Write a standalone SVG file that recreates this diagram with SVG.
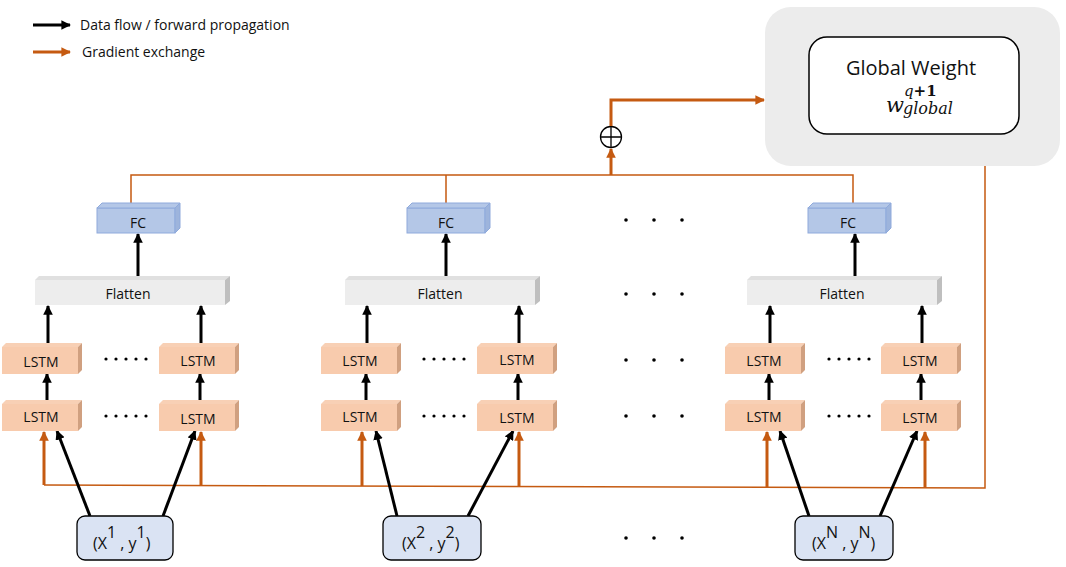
<svg xmlns="http://www.w3.org/2000/svg" xmlns:xlink="http://www.w3.org/1999/xlink" width="1066" height="567" viewBox="0 0 1066 567">
<style>
text{font-family:"Open Sans","Noto Sans",sans-serif;fill:#111}
.math{font-family:"DejaVu Serif",serif;font-style:italic}
.lbl{font-size:14px;text-anchor:middle}
.bk{stroke:#000;stroke-width:3;fill:none}
.or{stroke:#c55a11;stroke-width:1.5;fill:none}
.orb{stroke:#c55a11;stroke-width:3;fill:none}
.dot{fill:#000}
.inp{fill:#dae3f3;stroke:#000;stroke-width:1.3}
</style>
<defs>
<marker id="ab" viewBox="0 0 10 10" refX="9" refY="5" markerWidth="3.2" markerHeight="3.2" orient="auto"><path d="M0,0L10,5L0,10z" fill="#000"/></marker>
<marker id="ao" viewBox="0 0 10 10" refX="9" refY="5" markerWidth="3.2" markerHeight="3.2" orient="auto"><path d="M0,0L10,5L0,10z" fill="#c55a11"/></marker>
<g id="lstm"><rect x="0" y="4" width="76" height="27" fill="#f8cbad"/><path d="M0,4L4,0H80L76,4z" fill="#f4b183" opacity="0.6"/><path d="M76,4L80,0V27L76,31z" fill="#d0a080"/></g>
<g id="flat"><rect x="0" y="4" width="190" height="25" fill="#ededed"/><path d="M0,4L4,0H195L190,4z" fill="#e0e0e0"/><path d="M190,4L195,0V25L190,29z" fill="#bfbfbf"/></g>
<g id="fc"><rect x="0" y="5" width="78" height="25" fill="#b4c7e7" stroke="#8faadc"/><path d="M0,5L5,0H83L78,5z" fill="#b4c7e7" stroke="#8faadc"/><path d="M78,5L83,0V25L78,30z" fill="#9db4dc" stroke="#8faadc"/></g>
<g id="d5" class="dot"><circle cx="0" cy="0" r="1.6"/><circle cx="10" cy="0" r="1.6"/><circle cx="20" cy="0" r="1.6"/><circle cx="30" cy="0" r="1.6"/><circle cx="40" cy="0" r="1.6"/></g>
</defs>

<g id="legend">
<line x1="33" y1="25" x2="70" y2="25" class="bk" stroke-width="2.5" marker-end="url(#ab)"/>
<text x="80" y="30" font-size="14">Data flow / forward propagation</text>
<line x1="33" y1="52" x2="70" y2="52" class="orb" stroke-width="2.5" marker-end="url(#ao)"/>
<text x="82" y="57" font-size="14">Gradient exchange</text>
</g>

<g id="global">
<rect x="765" y="7" width="295" height="159" rx="26" fill="#ececec"/>
<rect x="809" y="37" width="210" height="97" rx="18" fill="#fff" stroke="#000" stroke-width="1.5"/>
<text x="911" y="75" font-size="20" text-anchor="middle">Global Weight</text>
<text class="math" x="886" y="112"><tspan font-size="21">w</tspan><tspan font-size="15" dy="-16">q</tspan><tspan font-size="15" style="font-style:normal;font-weight:bold">+1</tspan><tspan x="903" dy="18" font-size="16">global</tspan></text>
</g>

<g id="sum">
<circle cx="611" cy="137" r="10.5" fill="#fff" stroke="#000" stroke-width="1.3"/>
<path d="M600.5,137H621.5M611,126.5V147.5" stroke="#000" stroke-width="1.3"/>
</g>

<g id="connectors">
<path d="M611,126V100H764" class="orb" stroke-width="2.5" marker-end="url(#ao)"/>
<line x1="611" y1="175" x2="611" y2="149" class="orb" stroke-width="2.5" marker-end="url(#ao)"/>
<path d="M131,203V175H853V203M446,175V203" class="or"/>
<path d="M985,166V488L44,485" class="or"/>
<g class="orb" stroke-width="2.5">
<line x1="44" y1="485" x2="44" y2="432" marker-end="url(#ao)"/>
<line x1="201" y1="486" x2="201" y2="432" marker-end="url(#ao)"/>
<line x1="362" y1="486" x2="362" y2="432" marker-end="url(#ao)"/>
<line x1="519" y1="487" x2="519" y2="432" marker-end="url(#ao)"/>
<line x1="767" y1="487" x2="767" y2="432" marker-end="url(#ao)"/>
<line x1="925" y1="488" x2="925" y2="432" marker-end="url(#ao)"/>
</g>
<g class="bk">
<line x1="138" y1="276" x2="138" y2="234" marker-end="url(#ab)"/>
<line x1="48" y1="343" x2="48" y2="306" marker-end="url(#ab)"/>
<line x1="201" y1="343" x2="201" y2="306" marker-end="url(#ab)"/>
<line x1="47" y1="400" x2="47" y2="374" marker-end="url(#ab)"/>
<line x1="200" y1="400" x2="200" y2="374" marker-end="url(#ab)"/>
<line x1="90" y1="516" x2="57" y2="431" marker-end="url(#ab)"/>
<line x1="163" y1="516" x2="195" y2="431" marker-end="url(#ab)"/>

<line x1="446" y1="276" x2="446" y2="234" marker-end="url(#ab)"/>
<line x1="367" y1="343" x2="367" y2="306" marker-end="url(#ab)"/>
<line x1="519" y1="343" x2="519" y2="306" marker-end="url(#ab)"/>
<line x1="366" y1="400" x2="366" y2="374" marker-end="url(#ab)"/>
<line x1="518" y1="400" x2="518" y2="374" marker-end="url(#ab)"/>
<line x1="397" y1="516" x2="376" y2="431" marker-end="url(#ab)"/>
<line x1="468" y1="516" x2="513" y2="431" marker-end="url(#ab)"/>

<line x1="855" y1="276" x2="855" y2="234" marker-end="url(#ab)"/>
<line x1="770" y1="343" x2="770" y2="306" marker-end="url(#ab)"/>
<line x1="922" y1="343" x2="922" y2="306" marker-end="url(#ab)"/>
<line x1="769" y1="400" x2="769" y2="374" marker-end="url(#ab)"/>
<line x1="921" y1="400" x2="921" y2="374" marker-end="url(#ab)"/>
<line x1="809" y1="516" x2="780" y2="431" marker-end="url(#ab)"/>
<line x1="880" y1="516" x2="917" y2="431" marker-end="url(#ab)"/>
</g>
</g>

<g id="client1">
<use xlink:href="#fc" x="97" y="203"/><text class="lbl" x="138" y="228">FC</text>
<use xlink:href="#flat" x="35" y="276"/><text class="lbl" x="128" y="299">Flatten</text>
<use xlink:href="#lstm" x="2" y="343"/><text class="lbl" x="41" y="367">LSTM</text>
<use xlink:href="#lstm" x="159" y="343"/><text class="lbl" x="198" y="366">LSTM</text>
<use xlink:href="#lstm" x="2" y="400"/><text class="lbl" x="41" y="422">LSTM</text>
<use xlink:href="#lstm" x="159" y="400"/><text class="lbl" x="198" y="424">LSTM</text>
<use xlink:href="#d5" x="106" y="359"/><use xlink:href="#d5" x="106" y="416"/>
<rect class="inp" x="77" y="516" width="96" height="44" rx="8"/>
<text x="93" y="549" font-size="16">(X<tspan dy="-11">1</tspan><tspan dy="11"> , y</tspan><tspan dy="-11">1</tspan><tspan dy="11">)</tspan></text>
</g>

<g id="client2">
<use xlink:href="#fc" x="407" y="203"/><text class="lbl" x="446" y="228">FC</text>
<use xlink:href="#flat" x="345" y="276"/><text class="lbl" x="440" y="299">Flatten</text>
<use xlink:href="#lstm" x="321" y="343"/><text class="lbl" x="360" y="366">LSTM</text>
<use xlink:href="#lstm" x="477" y="343"/><text class="lbl" x="517" y="365">LSTM</text>
<use xlink:href="#lstm" x="321" y="400"/><text class="lbl" x="360" y="422">LSTM</text>
<use xlink:href="#lstm" x="477" y="400"/><text class="lbl" x="517" y="423">LSTM</text>
<use xlink:href="#d5" x="424" y="359"/><use xlink:href="#d5" x="424" y="416"/>
<rect class="inp" x="383" y="516" width="98" height="44" rx="8"/>
<text x="402" y="549" font-size="16">(X<tspan dy="-11">2</tspan><tspan dy="11"> , y</tspan><tspan dy="-11">2</tspan><tspan dy="11">)</tspan></text>
</g>

<g id="clientN">
<use xlink:href="#fc" x="808" y="203"/><text class="lbl" x="848" y="228">FC</text>
<use xlink:href="#flat" x="747" y="276"/><text class="lbl" x="842" y="299">Flatten</text>
<use xlink:href="#lstm" x="725" y="343"/><text class="lbl" x="764" y="366">LSTM</text>
<use xlink:href="#lstm" x="881" y="343"/><text class="lbl" x="920" y="366">LSTM</text>
<use xlink:href="#lstm" x="725" y="400"/><text class="lbl" x="764" y="422">LSTM</text>
<use xlink:href="#lstm" x="881" y="400"/><text class="lbl" x="920" y="423">LSTM</text>
<use xlink:href="#d5" x="829" y="359"/><use xlink:href="#d5" x="829" y="416"/>
<rect class="inp" x="795" y="516" width="98" height="44" rx="8"/>
<text x="812" y="549" font-size="16">(X<tspan dy="-11">N</tspan><tspan dy="11"> , y</tspan><tspan dy="-11">N</tspan><tspan dy="11">)</tspan></text>
</g>

<g id="ellipsis" class="dot">
<circle cx="626" cy="220" r="1.8"/><circle cx="654" cy="220" r="1.8"/><circle cx="682" cy="220" r="1.8"/>
<circle cx="626" cy="294" r="1.8"/><circle cx="654" cy="294" r="1.8"/><circle cx="682" cy="294" r="1.8"/>
<circle cx="626" cy="360" r="1.8"/><circle cx="654" cy="360" r="1.8"/><circle cx="682" cy="360" r="1.8"/>
<circle cx="626" cy="416" r="1.8"/><circle cx="654" cy="416" r="1.8"/><circle cx="682" cy="416" r="1.8"/>
<circle cx="626" cy="538" r="1.8"/><circle cx="654" cy="538" r="1.8"/><circle cx="682" cy="538" r="1.8"/>
</g>
</svg>
